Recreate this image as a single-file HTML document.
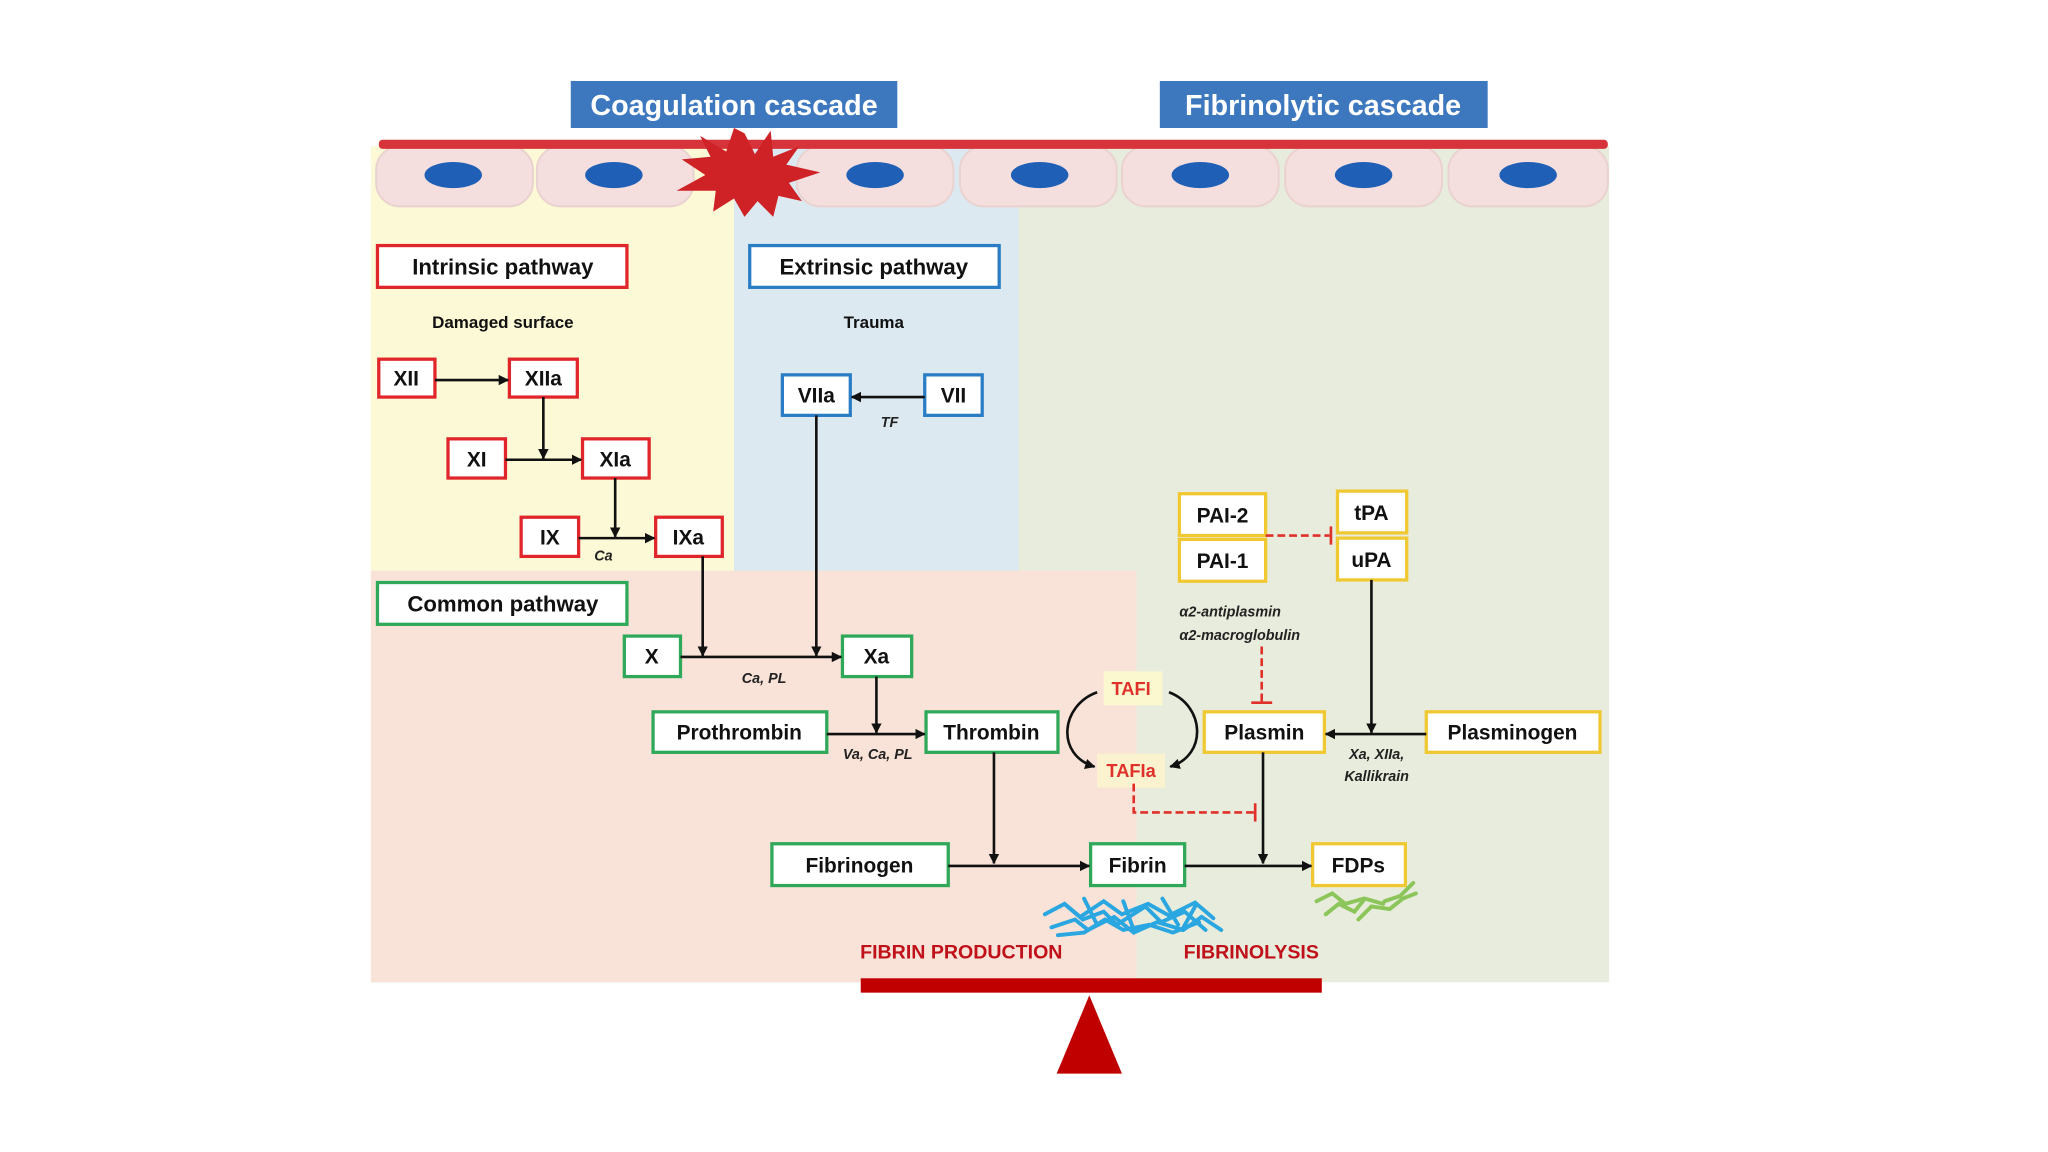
<!DOCTYPE html>
<html><head><meta charset="utf-8"><style>
html,body{margin:0;padding:0;background:#fff;}
svg{display:block}
text{font-family:"Liberation Sans",sans-serif;font-weight:bold;}
</style></head><body>
<svg width="2048" height="1152" viewBox="0 0 1568 882" xmlns="http://www.w3.org/2000/svg">
<defs>
<marker id="a" viewBox="0 0 10 10" refX="9" refY="5" markerWidth="4" markerHeight="4" orient="auto"><path d="M0,0L10,5L0,10z" fill="#111"/></marker>
</defs>
<rect width="1568" height="882" fill="#fff"/>
<!-- regions -->
<rect x="284" y="112" width="948" height="640" fill="#e8ecdc"/>
<rect x="284" y="112" width="278" height="325" fill="#fcf9d6"/>
<rect x="562" y="112" width="218" height="325" fill="#dce9f1"/>
<rect x="284" y="437" width="586" height="315" fill="#f9e3d8"/>
<!-- cells -->
<g fill="#f4dede" stroke="#e9d2cf" stroke-width="1.5">
<rect x="288" y="112" width="120" height="46" rx="18"/>
<rect x="411" y="112" width="120" height="46" rx="18"/>
<rect x="610" y="112" width="120" height="46" rx="18"/>
<rect x="735" y="112" width="120" height="46" rx="18"/>
<rect x="859" y="112" width="120" height="46" rx="18"/>
<rect x="984" y="112" width="120" height="46" rx="18"/>
<rect x="1109" y="112" width="122" height="46" rx="18"/>
</g>
<g fill="#1f5fb5">
<ellipse cx="347" cy="134" rx="22" ry="10"/><ellipse cx="470" cy="134" rx="22" ry="10"/>
<ellipse cx="670" cy="134" rx="22" ry="10"/><ellipse cx="796" cy="134" rx="22" ry="10"/>
<ellipse cx="919" cy="134" rx="22" ry="10"/><ellipse cx="1044" cy="134" rx="22" ry="10"/>
<ellipse cx="1170" cy="134" rx="22" ry="10"/>
</g>
<rect x="290" y="107" width="941" height="7" rx="3" fill="#d6343a"/>
<polygon fill="#cf2226" points="570,102 578,118 590,100 592,120 612,112 602,126 628,132 604,140 614,154 596,150 592,166 580,154 570,166 562,152 546,162 548,146 518,146 540,134 522,122 544,120 536,104 556,116 562,98"/>
<!-- titles -->
<rect x="437" y="62" width="250" height="36" fill="#3d78bf"/>
<text x="562" y="88" font-size="22" fill="#fff" text-anchor="middle">Coagulation cascade</text>
<rect x="888" y="62" width="251" height="36" fill="#3d78bf"/>
<text x="1013" y="88" font-size="22" fill="#fff" text-anchor="middle">Fibrinolytic cascade</text>
<!-- boxes -->
<g fill="#fff" stroke-width="2.5">
<g stroke="#e0252b">
<rect x="289" y="188" width="191" height="32"/>
<rect x="290" y="275" width="43" height="29"/><rect x="390" y="275" width="52" height="29"/>
<rect x="343" y="336" width="44" height="30"/><rect x="446" y="336" width="51" height="30"/>
<rect x="399" y="396" width="44" height="30"/><rect x="502" y="396" width="51" height="30"/>
</g>
<g stroke="#2a7dc4">
<rect x="574" y="188" width="191" height="32"/>
<rect x="599" y="287" width="52" height="31"/><rect x="708" y="287" width="44" height="31"/>
</g>
<g stroke="#2fa85a">
<rect x="289" y="446" width="191" height="32"/>
<rect x="478" y="487" width="43" height="31"/><rect x="645" y="487" width="53" height="31"/>
<rect x="500" y="545" width="133" height="31"/><rect x="709" y="545" width="101" height="31"/>
<rect x="591" y="646" width="135" height="32"/><rect x="835" y="646" width="72" height="32"/>
</g>
<g stroke="#f0c832">
<rect x="903" y="378" width="66" height="32"/><rect x="903" y="413" width="66" height="32"/>
<rect x="1024" y="376" width="53" height="32"/><rect x="1024" y="412" width="53" height="32"/>
<rect x="922" y="545" width="92" height="31"/><rect x="1092" y="545" width="133" height="31"/>
<rect x="1005" y="646" width="71" height="32"/>
</g>
</g>
<rect x="845" y="514" width="45" height="26" fill="#fbf8d0"/>
<rect x="840" y="577" width="52" height="26" fill="#fbf2cf"/>
<!-- texts -->
<g font-size="17" fill="#111" text-anchor="middle">
<text x="385" y="210">Intrinsic pathway</text>
<text x="669" y="210">Extrinsic pathway</text>
<text x="385" y="468">Common pathway</text>
</g>
<g font-size="16" fill="#111" text-anchor="middle">
<text x="311" y="295">XII</text><text x="416" y="295">XIIa</text>
<text x="365" y="357">XI</text><text x="471" y="357">XIa</text>
<text x="421" y="417">IX</text><text x="527" y="417">IXa</text>
<text x="625" y="308">VIIa</text><text x="730" y="308">VII</text>
<text x="499" y="508">X</text><text x="671" y="508">Xa</text>
<text x="566" y="566">Prothrombin</text><text x="759" y="566">Thrombin</text>
<text x="658" y="668">Fibrinogen</text><text x="871" y="668">Fibrin</text>
<text x="1040" y="668">FDPs</text>
<text x="936" y="400">PAI-2</text><text x="936" y="435">PAI-1</text>
<text x="1050" y="398">tPA</text><text x="1050" y="434">uPA</text>
<text x="968" y="566">Plasmin</text><text x="1158" y="566">Plasminogen</text>
</g>
<g font-size="13" fill="#111" text-anchor="middle">
<text x="385" y="251">Damaged surface</text><text x="669" y="251">Trauma</text>
</g>
<g font-size="11" fill="#222" font-style="italic" text-anchor="middle">
<text x="462" y="429">Ca</text><text x="681" y="327">TF</text>
<text x="585" y="523">Ca, PL</text><text x="672" y="581">Va, Ca, PL</text>
<text x="1054" y="581">Xa, XIIa,</text><text x="1054" y="598">Kallikrain</text>
<text x="903" y="472" text-anchor="start">α2-antiplasmin</text>
<text x="903" y="490" text-anchor="start">α2-macroglobulin</text>
</g>
<text x="866" y="532" font-size="14" fill="#e0302a" text-anchor="middle">TAFI</text>
<text x="866" y="595" font-size="14" fill="#e0302a" text-anchor="middle">TAFIa</text>
<!-- arrows -->
<g stroke="#111" stroke-width="2" fill="none" marker-end="url(#a)">
<line x1="333" y1="291" x2="389" y2="291"/>
<line x1="416" y1="304" x2="416" y2="351"/>
<line x1="387" y1="352" x2="445" y2="352"/>
<line x1="471" y1="366" x2="471" y2="411"/>
<line x1="443" y1="412" x2="501" y2="412"/>
<line x1="708" y1="304" x2="652" y2="304"/>
<line x1="538" y1="426" x2="538" y2="502"/>
<line x1="625" y1="318" x2="625" y2="502"/>
<line x1="521" y1="503" x2="644" y2="503"/>
<line x1="671" y1="518" x2="671" y2="561"/>
<line x1="633" y1="562" x2="708" y2="562"/>
<line x1="761" y1="576" x2="761" y2="661"/>
<line x1="726" y1="663" x2="834" y2="663"/>
<line x1="907" y1="663" x2="1004" y2="663"/>
<line x1="967" y1="576" x2="967" y2="661"/>
<line x1="1050" y1="444" x2="1050" y2="561"/>
<line x1="1092" y1="562" x2="1015" y2="562"/>
<path d="M840,530 C812,540 808,578 838,587"/>
<path d="M895,530 C922,540 925,578 896,587"/>
</g>
<!-- inhibition dashed -->
<g stroke="#e0302a" stroke-width="2" fill="none" stroke-dasharray="6,3">
<line x1="969" y1="410" x2="1018" y2="410"/>
<line x1="966" y1="495" x2="966" y2="537"/>
<path d="M868,600 V622 H960"/>
</g>
<g stroke="#e0302a" stroke-width="2">
<line x1="1019" y1="403" x2="1019" y2="417"/>
<line x1="958" y1="538" x2="974" y2="538"/>
<line x1="961" y1="615" x2="961" y2="629"/>
</g>
<!-- fibrin squiggles -->
<g stroke="#2aa6e0" stroke-width="3" fill="none" stroke-linecap="round">
<path d="M800,700 l15,-8 l12,10 l18,-12 l14,10 l20,-8 l16,9 l20,-10 l14,12"/>
<path d="M805,710 l18,-6 l10,8 l20,-10 l15,12 l18,-8 l20,6 l14,-10 l15,10"/>
<path d="M815,692 l14,12 l16,-6 l10,10 l22,-14 l12,12 l18,-8 l16,14"/>
<path d="M810,716 l20,-2 l16,-10 l14,8 l20,-4 l18,6 l20,-8"/>
<path d="M830,688 l10,20 M860,690 l8,22 M890,688 l12,20 M915,694 l-10,18"/>
</g>
<g stroke="#8cc65a" stroke-width="3" fill="none" stroke-linecap="round">
<path d="M1008,690 l12,-6 l10,8 l14,-4"/>
<path d="M1015,700 l10,-8 l12,6 l8,-10 l14,4"/>
<path d="M1040,704 l10,-10 l14,2 l10,-8 l10,-4"/>
<path d="M1060,690 l12,-4 l10,-10"/>
</g>
<!-- balance -->
<text x="736" y="734" font-size="15" fill="#c0101a" text-anchor="middle">FIBRIN PRODUCTION</text>
<text x="958" y="734" font-size="15" fill="#c0101a" text-anchor="middle">FIBRINOLYSIS</text>
<rect x="659" y="749" width="353" height="11" fill="#c00000"/>
<polygon points="834,762 809,822 859,822" fill="#c00000"/>
</svg>
</body></html>
